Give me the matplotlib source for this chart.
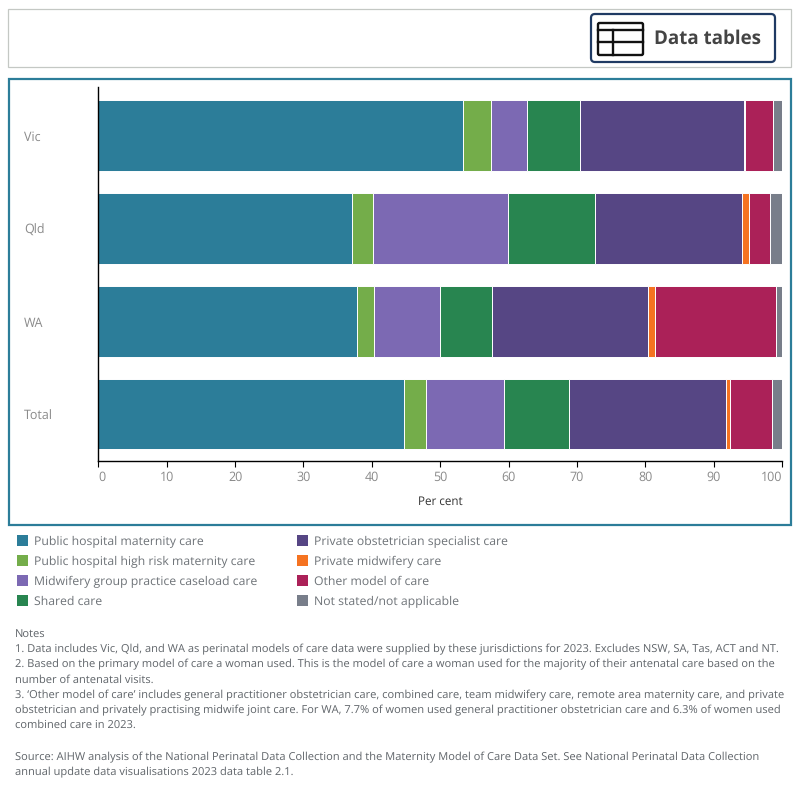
import matplotlib
matplotlib.use("Agg")
import matplotlib.pyplot as plt
from matplotlib.patches import FancyBboxPatch, Rectangle

plt.rcParams['font.family'] = ['Open Sans', 'DejaVu Sans']
plt.rcParams['text.hinting'] = 'none'

states = ['Vic', 'Qld', 'WA', 'Total']
public_hospital = [53.3, 37.1, 37.8, 44.7]
high_risk = [4.1, 3.1, 2.5, 3.2]
caseload = [5.3, 19.7, 9.7, 11.4]
shared = [7.8, 12.7, 7.6, 9.5]
private_obstetrician = [23.9, 21.5, 22.7, 22.9]
private_midwifery = [0.1, 1.1, 1.1, 0.6]
other_model = [4.1, 3.0, 17.7, 6.2]
not_stated = [1.4, 1.8, 0.9, 1.5]

series = [public_hospital, high_risk, caseload, shared,
          private_obstetrician, private_midwifery, other_model, not_stated]
series_names = ['Public hospital maternity care',
                'Public hospital high risk maternity care',
                'Midwifery group practice caseload care',
                'Shared care',
                'Private obstetrician specialist care',
                'Private midwifery care',
                'Other model of care',
                'Not stated/not applicable']
colours = ['#2C7D99', '#74AD4A', '#7C69B3', '#288550',
           '#564684', '#F57321', '#AB2158', '#787E8A']

notes = ['Notes',
         '1. Data includes Vic, Qld, and WA as perinatal models of care data were supplied by these jurisdictions for 2023. Excludes NSW, SA, Tas, ACT and NT.',
         '2. Based on the primary model of care a woman used. This is the model of care a woman used for the majority of their antenatal care based on the',
         'number of antenatal visits.',
         '3. \u2018Other model of care\u2019 includes general practitioner obstetrician care, combined care, team midwifery care, remote area maternity care, and private',
         'obstetrician and privately practising midwife joint care. For WA, 7.7% of women used general practitioner obstetrician care and 6.3% of women used',
         'combined care in 2023.',
         '',
         'Source: AIHW analysis of the National Perinatal Data Collection and the Maternity Model of Care Data Set. See National Perinatal Data Collection',
         'annual update data visualisations 2023 data table 2.1.']
note_rows = [634, 649, 664.5, 680, 695, 710, 725, 741, 757, 772]

W, H = 800, 800
fig = plt.figure(figsize=(W / 100, H / 100), dpi=100, facecolor='white')

# full-figure layer in pixel units for frames, legend and notes
page = fig.add_axes([0, 0, 1, 1], zorder=0)
page.set_xlim(0, W)
page.set_ylim(H, 0)
page.axis('off')

page.add_patch(Rectangle((8, 8.5), 783, 58.5, fc='none', ec='#C4C8C4', lw=0.9))
page.add_patch(Rectangle((8.5, 78.5), 782, 446, fc='none', ec='#2C7D99', lw=1.6))

# data tables button and its icon
page.add_patch(FancyBboxPatch((591, 14), 184, 48, boxstyle='round,pad=0,rounding_size=4',
                              fc='white', ec='#1F3A63', lw=1.6))
page.add_patch(FancyBboxPatch((598, 23), 45, 32, boxstyle='round,pad=0,rounding_size=1.5',
                              fc='none', ec='#111111', lw=1.7))
page.plot([598, 643], [30, 30], color='#111111', lw=1.7)
page.plot([598, 643], [42, 42], color='#111111', lw=1.7)
page.plot([613, 613], [30, 55], color='#111111', lw=1.7)
page.text(654, 39, 'Data tables', fontsize=13.5, fontweight='bold', color='#444444',
          va='center', ha='left')

# legend in two columns
legend_x = [17, 297]
legend_y = [541, 561, 581, 601]
for i, (name, colour) in enumerate(zip(series_names, colours)):
    lx = legend_x[i // 4]
    ly = legend_y[i % 4]
    page.add_patch(Rectangle((lx, ly - 6), 11, 11, fc=colour, ec='none'))
    page.text(lx + 17.5, ly + 1, name, fontsize=8.82, color='#6E7378', va='center', ha='left')

for row, line in zip(note_rows, notes):
    page.text(15, row, line, fontsize=8.03, color='#5F6469', va='center', ha='left')

# stacked bars
ax = fig.add_axes([98.2 / W, 1 - 461.2 / H, (782.3 - 98.2) / W, (461.2 - 87.5) / H], zorder=1)
ax.patch.set_alpha(0)
left = [0.0] * len(states)
for values, colour, name in zip(series, colours, series_names):
    ax.barh(states, values, left=left, height=70.5 / 93, color=colour,
            edgecolor='white', linewidth=0.7, label=name)
    left = [a + b for a, b in zip(left, values)]

ax.set_xlim(0, 100)
ax.set_ylim(3.505, -0.515)
ax.spines['top'].set_visible(False)
ax.spines['right'].set_visible(False)
ax.spines['left'].set_linewidth(1.0)
ax.spines['bottom'].set_linewidth(1.0)
ax.spines['left'].set_zorder(5)

ax.set_xticks(range(0, 101, 10))
ax.tick_params(axis='x', length=4, width=0.8, pad=3, labelsize=9, labelcolor='#8A8A8A')
ax.tick_params(axis='y', length=0, pad=0, labelleft=False)
for lab in ax.get_xticklabels():
    if lab.get_text() == '0':
        lab.set_ha('left')
    if lab.get_text() == '100':
        lab.set_ha('right')

for i, state in enumerate(states):
    page.text(24, 137 + i * 93.2, state, fontsize=9, color='#8A8A8A', va='center', ha='left')

page.text(440, 502, 'Per cent', fontsize=8.4, color='#333333', va='center', ha='center')

fig.savefig('out.png', dpi=100)
